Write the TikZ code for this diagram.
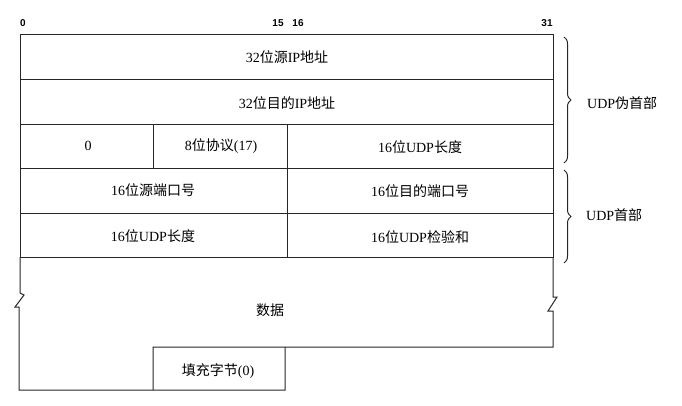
\documentclass[tikz,border=0pt]{standalone}
\usepackage{fontspec}
\setmainfont{Liberation Serif}
\newfontfamily\cjk{Noto Sans CJK SC}
\newfontfamily\numf{Liberation Sans}
\usetikzlibrary{decorations.pathreplacing}
\begin{document}
\begin{tikzpicture}[x=1pt,y=-1pt,
  frame/.style={draw=black!85,line width=1pt},
  lbl/.style={font=\fontsize{14}{16}\selectfont,inner sep=0pt},
  bitnum/.style={font=\numf\bfseries\fontsize{10}{12}\selectfont,inner sep=0pt},
  brc/.style={draw=black!85,line width=1pt,decorate,decoration={brace,amplitude=7pt}}]
\useasboundingbox (0,0) rectangle (682,406);
% bit numbers
\node[bitnum] (b0) at (23,23) {0};
\node[bitnum] (b15) at (278,23) {15};
\node[bitnum] (b16) at (298,23) {16};
\node[bitnum] (b31) at (547,23) {31};
% header rows
\draw[frame] (20,35) rectangle (553,257);
\draw[frame] (20,80) -- (553,80);
\draw[frame] (20,125) -- (553,125);
\draw[frame] (20,169) -- (553,169);
\draw[frame] (20,213) -- (553,213);
\draw[frame] (153,125) -- (153,169);
\draw[frame] (287,125) -- (287,257);
% data area
\draw[frame] (20,257) -- (20,293) -- (24,295) -- (15,307) -- (19,307) -- (19,390) -- (285,390) -- (285,347);
\draw[frame] (153,390) -- (153,347) -- (553,347) -- (553,311) -- (548,311) -- (557,297) -- (553,297) -- (553,257);
% labels
\node[lbl] (src) at (287,57) {32{\cjk 位源}IP{\cjk 地址}};
\node[lbl] (dst) at (287,103) {32{\cjk 位目的}IP{\cjk 地址}};
\node[lbl] (zero) at (88,146) {0};
\node[lbl] (proto) at (221,146) {8{\cjk 位协议}(17)};
\node[lbl] (plen) at (420,147) {16{\cjk 位}UDP{\cjk 长度}};
\node[lbl] (sport) at (153,190) {16{\cjk 位源端口号}};
\node[lbl] (dport) at (420,191) {16{\cjk 位目的端口号}};
\node[lbl] (ulen) at (153,236) {16{\cjk 位}UDP{\cjk 长度}};
\node[lbl] (csum) at (420,237) {16{\cjk 位}UDP{\cjk 检验和}};
\node[lbl] (data) at (270,310) {\cjk 数据};
\node[lbl] (pad) at (218,371) {{\cjk 填充字节}(0)};
% braces
\coordinate (p1) at (564,37);
\coordinate (p2) at (564,163);
\coordinate (h1) at (564,170);
\coordinate (h2) at (564,263);
\draw[brc] (p1) -- (p2);
\draw[brc] (h1) -- (h2);
\node[lbl,anchor=west] (pseudo) at (587,103) {UDP{\cjk 伪首部}};
\node[lbl,anchor=west] (hdr) at (586,215) {UDP{\cjk 首部}};
\end{tikzpicture}
\end{document}
